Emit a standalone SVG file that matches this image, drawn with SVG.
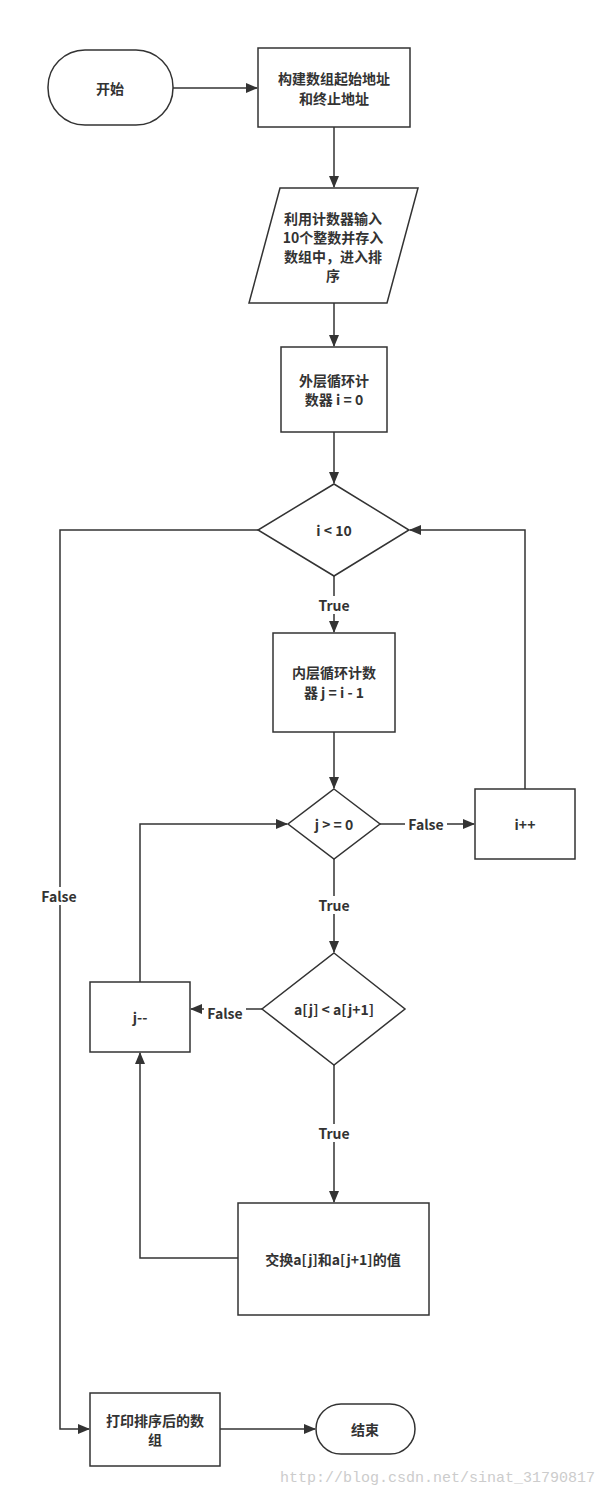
<svg xmlns="http://www.w3.org/2000/svg" width="606" height="1497" viewBox="0 0 606 1497">
<defs>
<marker id="ah" markerWidth="12" markerHeight="10" refX="11" refY="5" orient="auto" markerUnits="userSpaceOnUse"><path d="M0,0 L12,5 L0,10 Z" fill="#333"/></marker>
<style>
.s{fill:#fff;stroke:#333;stroke-width:1.5}
.t{font-family:"Noto Sans CJK SC","Liberation Sans",sans-serif;font-size:14px;font-weight:bold;fill:#333;text-anchor:middle;dominant-baseline:central}
.c{fill:none;stroke:#333;stroke-width:1.5;marker-end:url(#ah)}
.l{fill:none;stroke:#333;stroke-width:1.5}
.lb{fill:#fff}
</style>
</defs>
<rect width="606" height="1497" fill="#fff"/>
<g id="connectors">
<path class="c" d="M173,88 H257"/>
<path class="c" d="M334,127 V187"/>
<path class="c" d="M334,303 V346"/>
<path class="c" d="M334,432 V483"/>
<path class="c" d="M334,576 V632"/>
<path class="c" d="M334,732 V788"/>
<path class="c" d="M380,824 H474"/>
<path class="c" d="M525,789 V530 H410"/>
<path class="c" d="M334,859 V952"/>
<path class="c" d="M262,1009 H191"/>
<path class="c" d="M140,982 V824 H287"/>
<path class="c" d="M334,1065 V1202"/>
<path class="c" d="M238,1258 H140 V1053"/>
<path class="c" d="M258,530 H60 V1429 H89"/>
<path class="c" d="M220,1429 H315"/>
<rect class="lb" x="314" y="596" width="40" height="18"/><text class="t" x="334" y="605">True</text>
<rect class="lb" x="314" y="896" width="40" height="18"/><text class="t" x="334" y="905">True</text>
<rect class="lb" x="314" y="1124" width="40" height="18"/><text class="t" x="334" y="1133">True</text>
<rect class="lb" x="405" y="815" width="42" height="18"/><text class="t" x="426" y="824">False</text>
<rect class="lb" x="204" y="1004" width="42" height="18"/><text class="t" x="225" y="1013">False</text>
<rect class="lb" x="38" y="887" width="42" height="18"/><text class="t" x="59" y="896">False</text>
</g>
<g id="start"><rect class="s" x="48" y="50" width="125" height="75" rx="37"/><text class="t" x="110" y="88">开始</text></g>
<g id="init"><rect class="s" x="258" y="48" width="152" height="79"/><text class="t" x="334" y="78">构建数组起始地址</text><text class="t" x="334" y="98">和终止地址</text></g>
<g id="input"><polygon class="s" points="280,188 418,188 387,303 249,303"/>
<text class="t" x="333" y="218">利用计数器输入</text><text class="t" x="333" y="237">10个整数并存入</text><text class="t" x="333" y="256">数组中，进入排</text><text class="t" x="333" y="275">序</text></g>
<g id="outer"><rect class="s" x="281" y="347" width="106" height="85"/><text class="t" x="334" y="380">外层循环计</text><text class="t" x="334" y="399">数器 i = 0</text></g>
<g id="cond1"><polygon class="s" points="334,484 409,530 334,576 258,530"/><text class="t" x="334" y="530">i &lt; 10</text></g>
<g id="inner"><rect class="s" x="273" y="633" width="122" height="99"/><text class="t" x="334" y="672">内层循环计数</text><text class="t" x="334" y="692">器 j = i - 1</text></g>
<g id="cond2"><polygon class="s" points="334,789 380,824 334,859 288,824"/><text class="t" x="334" y="824">j &gt; = 0</text></g>
<g id="iinc"><rect class="s" x="475" y="789" width="100" height="70"/><text class="t" x="525" y="824">i++</text></g>
<g id="cond3"><polygon class="s" points="334,953 405,1009 334,1065 262,1009"/><text class="t" x="334" y="1009">a[j] &lt; a[j+1]</text></g>
<g id="jdec"><rect class="s" x="90" y="982" width="100" height="70"/><text class="t" x="140" y="1017">j--</text></g>
<g id="swap"><rect class="s" x="238" y="1203" width="191" height="112"/><text class="t" x="333" y="1259">交换a[j]和a[j+1]的值</text></g>
<g id="print"><rect class="s" x="90" y="1393" width="130" height="73"/><text class="t" x="155" y="1420">打印排序后的数</text><text class="t" x="155" y="1439">组</text></g>
<g id="end"><rect class="s" x="316" y="1404" width="99" height="50" rx="25"/><text class="t" x="365" y="1429">结束</text></g>
<text x="595" y="1482" font-family="Liberation Mono, monospace" font-size="15" fill="#ccc" text-anchor="end">http://blog.csdn.net/sinat_31790817</text>
</svg>
